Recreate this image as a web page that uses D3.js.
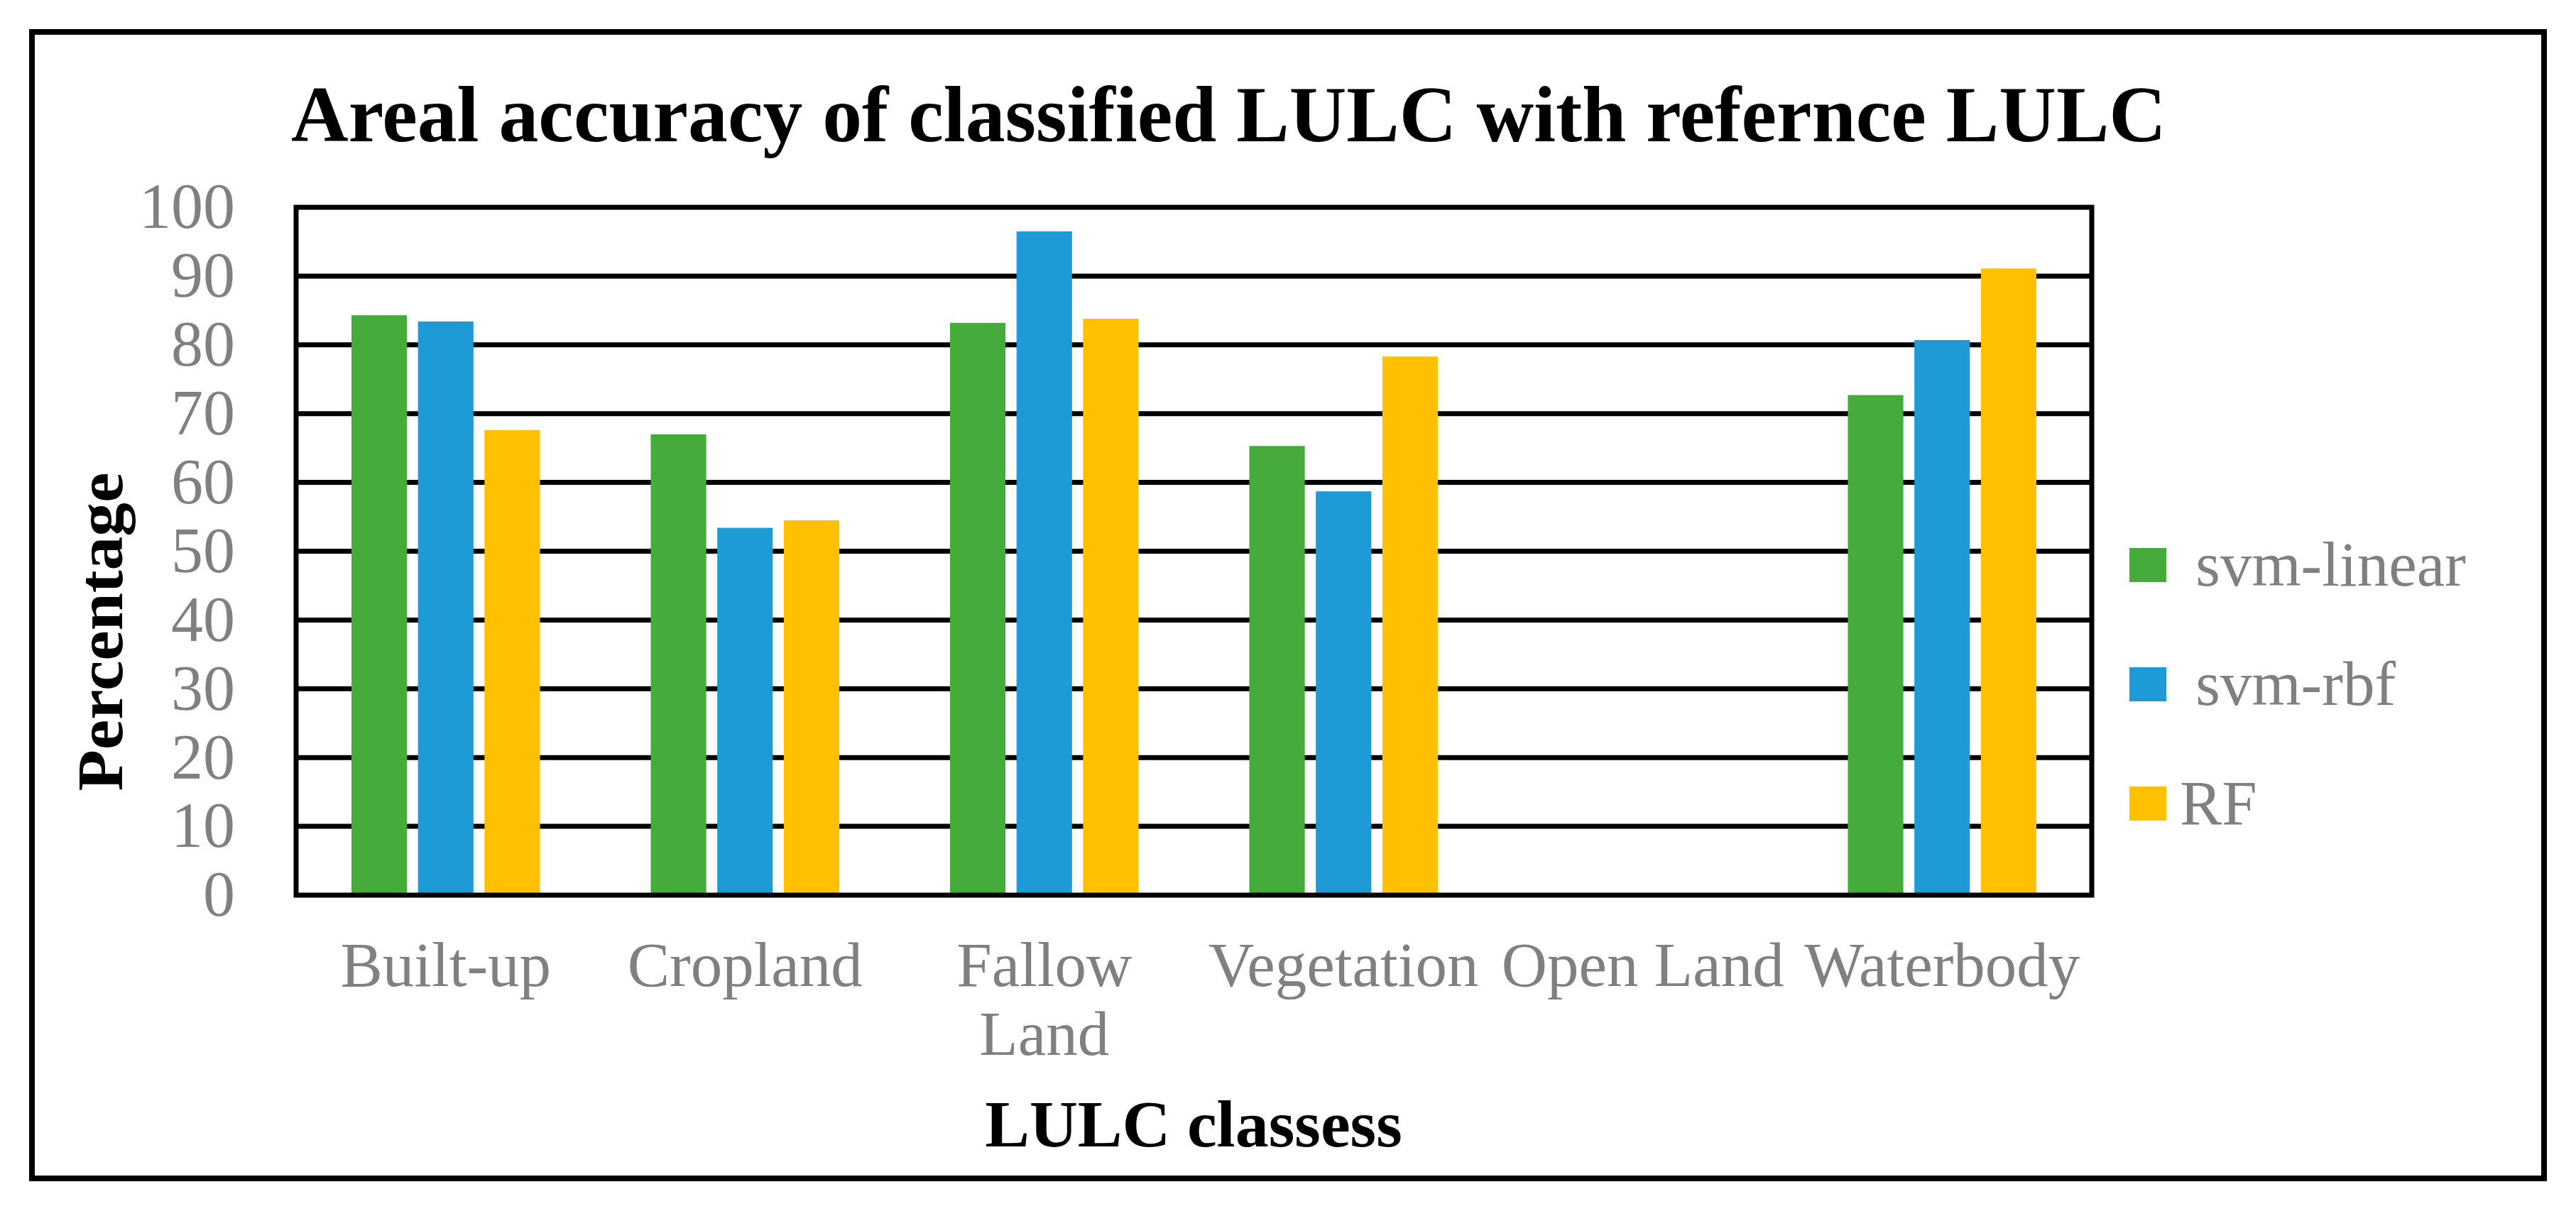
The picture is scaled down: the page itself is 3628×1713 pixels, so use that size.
<!DOCTYPE html>
<html>
<head>
<meta charset="utf-8">
<script src="https://cdn.jsdelivr.net/npm/d3@7"></script>
<style>
  body { margin: 0; background: #fff; }
  svg text { font-family: "Liberation Serif", "Times New Roman", serif; }
</style>
</head>
<body>
<svg class="chart"></svg>
<script>
// chart data
var categories = ["Built-up", "Cropland", "Fallow Land", "Vegetation", "Open Land", "Waterbody"];
var seriesNames = ["svm-linear", "svm-rbf", "RF"];
var legendLabels = [" svm-linear", " svm-rbf", "RF"];
var svmLinear = [84.3, 67.0, 83.2, 65.3, 0, 72.7];
var svmRbf = [83.4, 53.4, 96.5, 58.7, 0, 80.7];
var rf = [67.6, 54.5, 83.8, 78.3, 0, 91.1];
var yTicks = [0, 10, 20, 30, 40, 50, 60, 70, 80, 90, 100];
var colors = ["#45ac3b", "#1e9ad7", "#ffc000"];

var W = 3628, H = 1713;
var plot = {left: 417, right: 2946, top: 292, bottom: 1261};

var svg = d3.select(".chart")
    .attr("width", W)
    .attr("height", H);

svg.append("rect").attr("width", W).attr("height", H).attr("fill", "#fff");

// outer frame
svg.append("rect")
    .attr("x", 45).attr("y", 45)
    .attr("width", 3583 - 45).attr("height", 1660 - 45)
    .attr("fill", "none").attr("stroke", "#000").attr("stroke-width", 8);

// title
svg.append("text")
    .attr("x", 410).attr("y", 199)
    .attr("font-size", 113).attr("font-weight", "bold")
    .attr("textLength", 2641).attr("lengthAdjust", "spacingAndGlyphs")
    .text("Areal accuracy of classified LULC with refernce LULC");

var x0 = d3.scaleBand().domain(categories).range([plot.left, plot.right]);
var x1 = d3.scaleBand().domain(seriesNames)
    .range([78, x0.bandwidth() - 78]).paddingInner(0.166);
var y = d3.scaleLinear().domain([0, 100]).range([plot.bottom, plot.top]);

// gridlines
svg.append("g").selectAll("line")
    .data(yTicks.filter(function(d) { return d > 0 && d < 100; }))
    .enter().append("line")
    .attr("x1", plot.left).attr("x2", plot.right)
    .attr("y1", function(d) { return y(d); })
    .attr("y2", function(d) { return y(d); })
    .attr("stroke", "#000").attr("stroke-width", 7);

// bars
var table = categories.map(function(c, i) {
    return {cat: c, vals: [svmLinear[i], svmRbf[i], rf[i]]};
});

svg.append("g").selectAll("g")
    .data(table).enter().append("g")
    .attr("transform", function(d) { return "translate(" + x0(d.cat) + ",0)"; })
    .selectAll("rect")
    .data(function(d) { return d.vals.map(function(v, k) { return {s: seriesNames[k], v: v, k: k}; }); })
    .enter().append("rect")
    .attr("x", function(d) { return x1(d.s); })
    .attr("width", x1.bandwidth())
    .attr("y", function(d) { return y(d.v); })
    .attr("height", function(d) { return y(0) - y(d.v); })
    .attr("fill", function(d) { return colors[d.k]; });

// plot frame
svg.append("rect")
    .attr("x", plot.left).attr("y", plot.top)
    .attr("width", plot.right - plot.left).attr("height", plot.bottom - plot.top)
    .attr("fill", "none").attr("stroke", "#000").attr("stroke-width", 7);

// y axis
var yAxis = svg.append("g")
    .attr("transform", "translate(" + plot.left + ",0)")
    .call(d3.axisLeft(y).tickValues(yTicks).tickSize(0).tickPadding(86));
yAxis.select(".domain").remove();
yAxis.selectAll("text")
    .attr("font-size", 90).attr("fill", "#808080")
    .style("font-family", "'Liberation Serif', serif");

// x axis
var xAxis = svg.append("g")
    .attr("transform", "translate(0," + plot.bottom + ")")
    .call(d3.axisBottom(x0).tickSize(0).tickPadding(65));
xAxis.select(".domain").remove();
xAxis.selectAll("text")
    .attr("font-size", 89).attr("fill", "#808080")
    .style("font-family", "'Liberation Serif', serif")
    .call(wrap, x0.bandwidth());

function wrap(texts, width) {
    texts.each(function() {
        var text = d3.select(this),
            words = text.text().split(/\s+/),
            yPos = text.attr("y"),
            line = [],
            lineNo = 0,
            tspan = text.text(null).append("tspan").attr("x", 0).attr("y", yPos).attr("dy", "0.71em");
        words.forEach(function(w) {
            line.push(w);
            tspan.text(line.join(" "));
            if (tspan.node().getComputedTextLength() > width && line.length > 1) {
                line.pop();
                tspan.text(line.join(" "));
                line = [w];
                lineNo++;
                tspan = text.append("tspan").attr("x", 0).attr("y", yPos)
                    .attr("dy", (0.71 + lineNo * 1.09) + "em").text(w);
            }
        });
    });
}

// axis titles
svg.append("text")
    .attr("transform", "translate(172,890) rotate(-90)")
    .attr("text-anchor", "middle")
    .attr("font-size", 92).attr("font-weight", "bold")
    .attr("textLength", 449).attr("lengthAdjust", "spacingAndGlyphs")
    .text("Percentage");

svg.append("text")
    .attr("x", 1681).attr("y", 1615)
    .attr("text-anchor", "middle")
    .attr("font-size", 94).attr("font-weight", "bold")
    .text("LULC classess");

// legend
var legend = svg.append("g").selectAll("g")
    .data(legendLabels).enter().append("g")
    .attr("transform", function(d, i) { return "translate(2999," + (772 + i * 168) + ")"; });
legend.append("rect")
    .attr("width", 52).attr("height", 48)
    .attr("fill", function(d, i) { return colors[i]; });
legend.append("text")
    .attr("x", 71).attr("y", 53)
    .attr("font-size", 89).attr("fill", "#808080")
    .style("white-space", "pre")
    .text(function(d) { return d; });
</script>
</body>
</html>
